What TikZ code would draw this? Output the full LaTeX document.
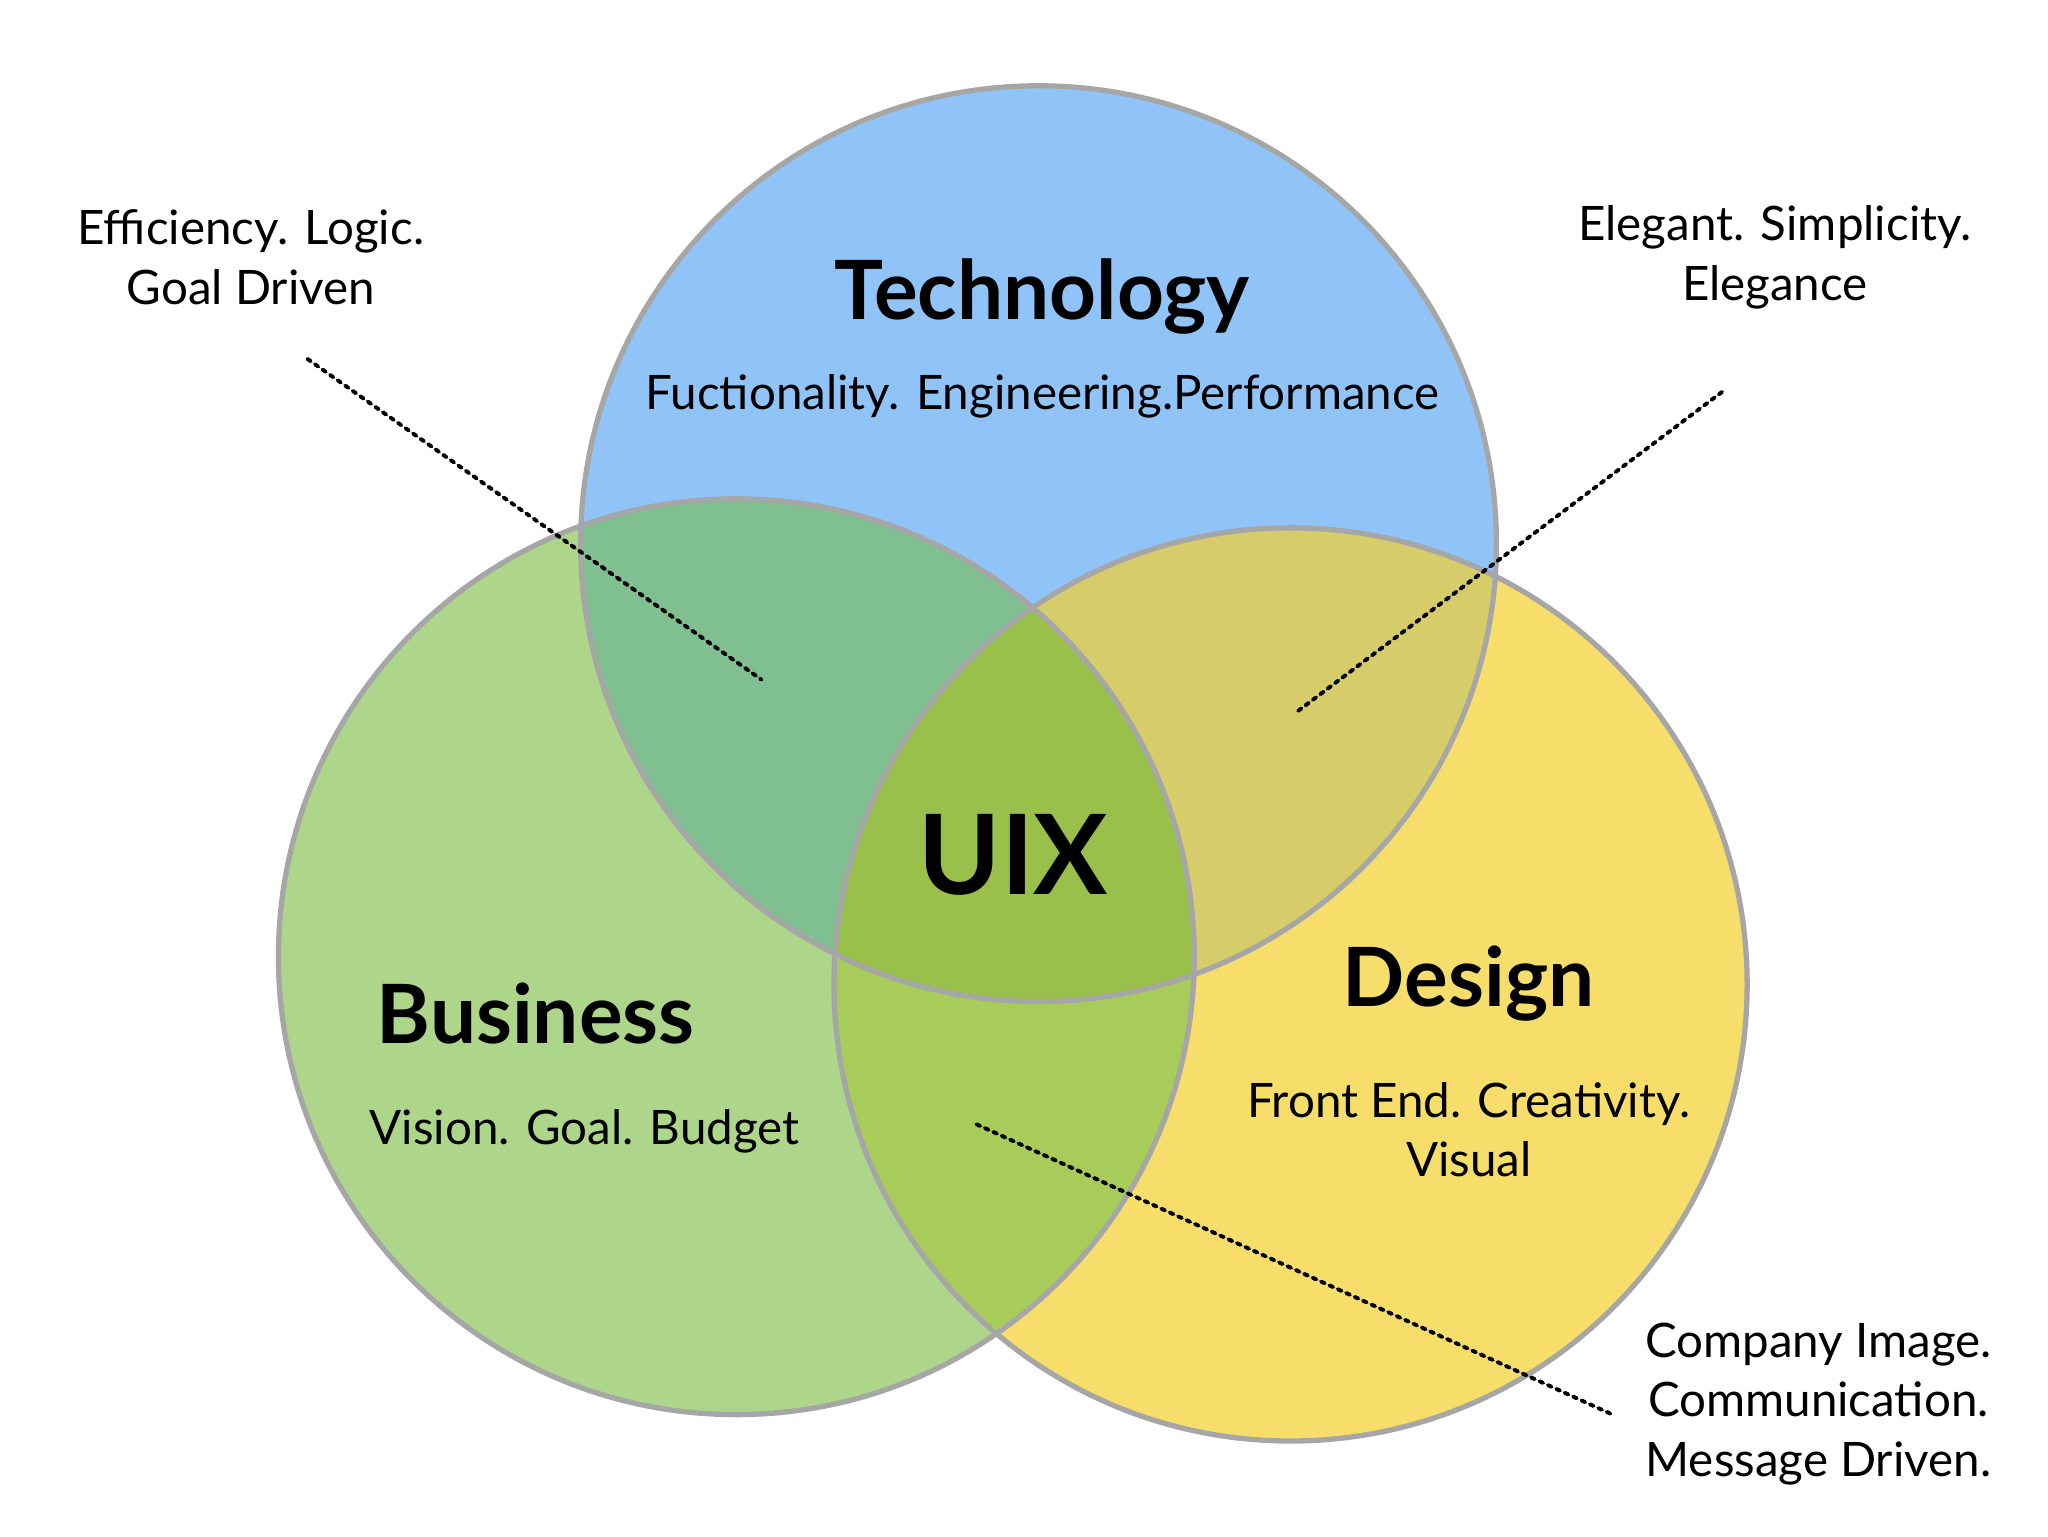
\documentclass[tikz,border=0pt]{standalone}
\usepackage{fontspec}
\setmainfont{Lato}
\begin{document}
\begin{tikzpicture}[x=0.5pt,y=-0.5pt,
  body/.style={font=\fontsize{18}{22.5}\selectfont,align=center,inner sep=0},
  title/.style={font=\fontsize{31}{36}\selectfont\bfseries,inner sep=0},
  ring/.style={draw=black!35,line width=2pt},
  dots/.style={dotted,line width=1.5pt,line cap=round}]
\useasboundingbox (0,0) rectangle (1552,1164);
\definecolor{cT}{HTML}{90C4F8}\definecolor{cB}{HTML}{ADD68A}\definecolor{cD}{HTML}{F7DE6A}
\definecolor{cTB}{HTML}{80BF8F}\definecolor{cTD}{HTML}{D6CD6A}\definecolor{cBD}{HTML}{A8CC5A}\definecolor{cC}{HTML}{98C04A}
\def\CT{(787,412) circle[radius=347]}
\def\CB{(558,725) circle[radius=347]}
\def\CD{(978,746) circle[radius=346]}
\fill[cT] \CT; \fill[cB] \CB; \fill[cD] \CD;
\begin{scope}\clip \CT; \fill[cTB] \CB; \fill[cTD] \CD; \end{scope}
\begin{scope}\clip \CB; \fill[cBD] \CD; \end{scope}
\begin{scope}\clip \CT; \clip \CB; \fill[cC] \CD; \end{scope}
\draw[ring] \CT; \draw[ring] \CB; \draw[ring] \CD;
\coordinate (a1) at (233,272); \coordinate (a2) at (577,515);
\coordinate (b1) at (1305,297); \coordinate (b2) at (982,540);
\coordinate (c1) at (740,852); \coordinate (c2) at (1222,1072);
\draw[dots] (a1) -- (a2); \draw[dots] (b1) -- (b2); \draw[dots] (c1) -- (c2);
\node[title] (tech) at (790,225) {Technology};
\node[body] (techs) at (790,300) {Fuctionality. Engineering.Performance};
\node[title] (bus) at (406,768) {Business};
\node[body] (buss) at (443,857) {Vision. Goal. Budget};
\node[title] (des) at (1113,745) {Design};
\node[body] (dess) at (1113,856) {Front End. Creativity.\\Visual};
\node[font=\fontsize{42}{48}\selectfont\bfseries,inner sep=0] (uix) at (768,648) {UIX};
\node[body] (n1) at (190,195) {Efficiency. Logic.\\Goal Driven};
\node[body] (n2) at (1345,195) {Elegant. Simplicity.\\Elegance};
\node[body] (n3) at (1378,1064) {Company Image.\\Communication.\\Message Driven.};
\end{tikzpicture}
\end{document}
